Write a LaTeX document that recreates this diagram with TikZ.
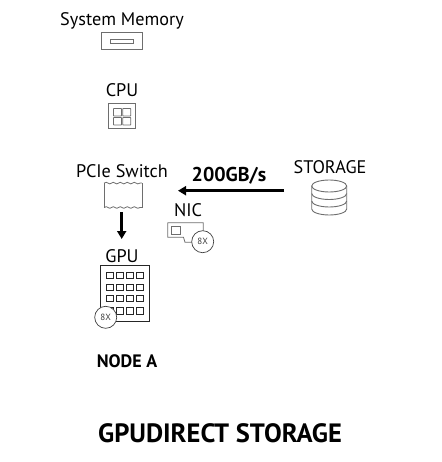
\documentclass[tikz,border=0pt]{standalone}
\usepackage{fontspec}
\setmainfont{PT Sans}
\usetikzlibrary{arrows.meta,decorations.pathmorphing}
\definecolor{ico}{HTML}{6E6E6E}
\tikzset{
 lbl/.style={inner sep=0pt,text=black,font=\fontsize{18.2}{20}\selectfont},
 bold/.style={inner sep=0pt,text=black,font=\bfseries\fontsize{#1}{#1}\selectfont},
 ico/.style={draw=ico,line width=0.8pt},
 dark/.style={draw=black!85,line width=1pt},
 badge/.style={circle,draw=black!75,line width=0.7pt,fill=white,minimum size=22pt,inner sep=0pt,text=black!75,font=\fontsize{9}{9}\selectfont},
 flow/.style={draw=black,line width=2.6pt,-{Triangle[length=8pt,width=9pt]}},
}
\begin{document}
\begin{tikzpicture}[x=1pt,y=-1pt]
\useasboundingbox (0,0) rectangle (441,462);
% labels
\node[lbl] (lmem) at (122,20.5) {System Memory};
\node[lbl] (lcpu) at (122,90.5) {CPU};
\node[lbl] (lsw) at (122,171.5) {PCIe Switch};
\node[lbl] (lgpu) at (122,256.5) {GPU};
\node[lbl] (lnic) at (188,210.5) {NIC};
\node[lbl] (lsto) at (330,167.5) {STORAGE};
\node[bold=20] (lrate) at (229,176) {200GB/s};
\node[bold=18] (lnode) at (127,361) {NODE A};
\node[bold=26.5] (ltitle) at (220,433) {GPUDIRECT STORAGE};
% memory
\draw[ico] (101.7,32.3) rectangle (142.3,49.3);
\draw[ico] (110,39) rectangle (133,43);
% cpu
\draw[ico,line width=1pt] (108.7,103.3) rectangle (135.7,129);
\foreach \x in {113.5,122.8}\foreach \y in {108.5,117.5}
 \draw[ico,rounded corners=0.5pt] (\x,\y) rectangle ++(8,7.5);
% switch
\node (sw) at (123,195.3) [minimum width=37.4pt,minimum height=24pt,inner sep=0pt] {};
\draw[draw=ico,line width=0.8pt,decorate,decoration={snake,segment length=7pt,amplitude=0.8pt}]
 (sw.north west) -- (sw.north east);
\draw[draw=ico,line width=0.8pt,decorate,decoration={snake,segment length=7pt,amplitude=0.8pt}]
 (sw.south west) -- (sw.south east);
\draw[ico] (sw.north west) -- (sw.south west) (sw.north east) -- (sw.south east);
% gpu
\draw[dark] (100.7,265.7) rectangle (149.3,321);
\foreach \x in {106.7,116.7,126.7,136.7}\foreach \y in {272.3,284.3,295,307.7}
 \draw[dark,line width=0.9pt] (\x,\y) rectangle ++(6.8,6.6);
\node[badge] (b1) at (105.7,317.3) {8X};
% nic
\draw[ico] (167.7,222.7) -- (203.3,222.7) -- (203.3,233) (167.7,222.7) -- (167.7,237.3) -- (183.5,237.3) -- (185,242.3) -- (194,242.3);
\draw[ico] (171.7,226.7) rectangle (180.7,234);
\node[badge] (b2) at (202.7,241.7) {8X};
% storage
\node (sto) at (329.2,197.5) [minimum width=35pt,minimum height=35pt,inner sep=0pt] {};
\draw[ico,line width=0.9pt] (311.7,186) arc[start angle=180,end angle=-180,x radius=17.5pt,y radius=6pt];
\draw[ico,line width=0.9pt] (311.7,186) -- (311.7,209) arc[start angle=180,end angle=360,x radius=17.5pt,y radius=6pt] -- (346.7,186);
\draw[ico,line width=0.9pt] (311.7,193.5) arc[start angle=180,end angle=360,x radius=17.5pt,y radius=6pt];
\draw[ico,line width=0.9pt] (311.7,201) arc[start angle=180,end angle=360,x radius=17.5pt,y radius=6pt];
% connectors
\coordinate (aout) at (284,190.7);
\coordinate (ain) at (178,190.7);
\draw[flow] (aout) -- (ain);
\draw[flow] (sw.south) ++(-1.3,4.5) coordinate (s1) -- (121.7,239);
\end{tikzpicture}
\end{document}
